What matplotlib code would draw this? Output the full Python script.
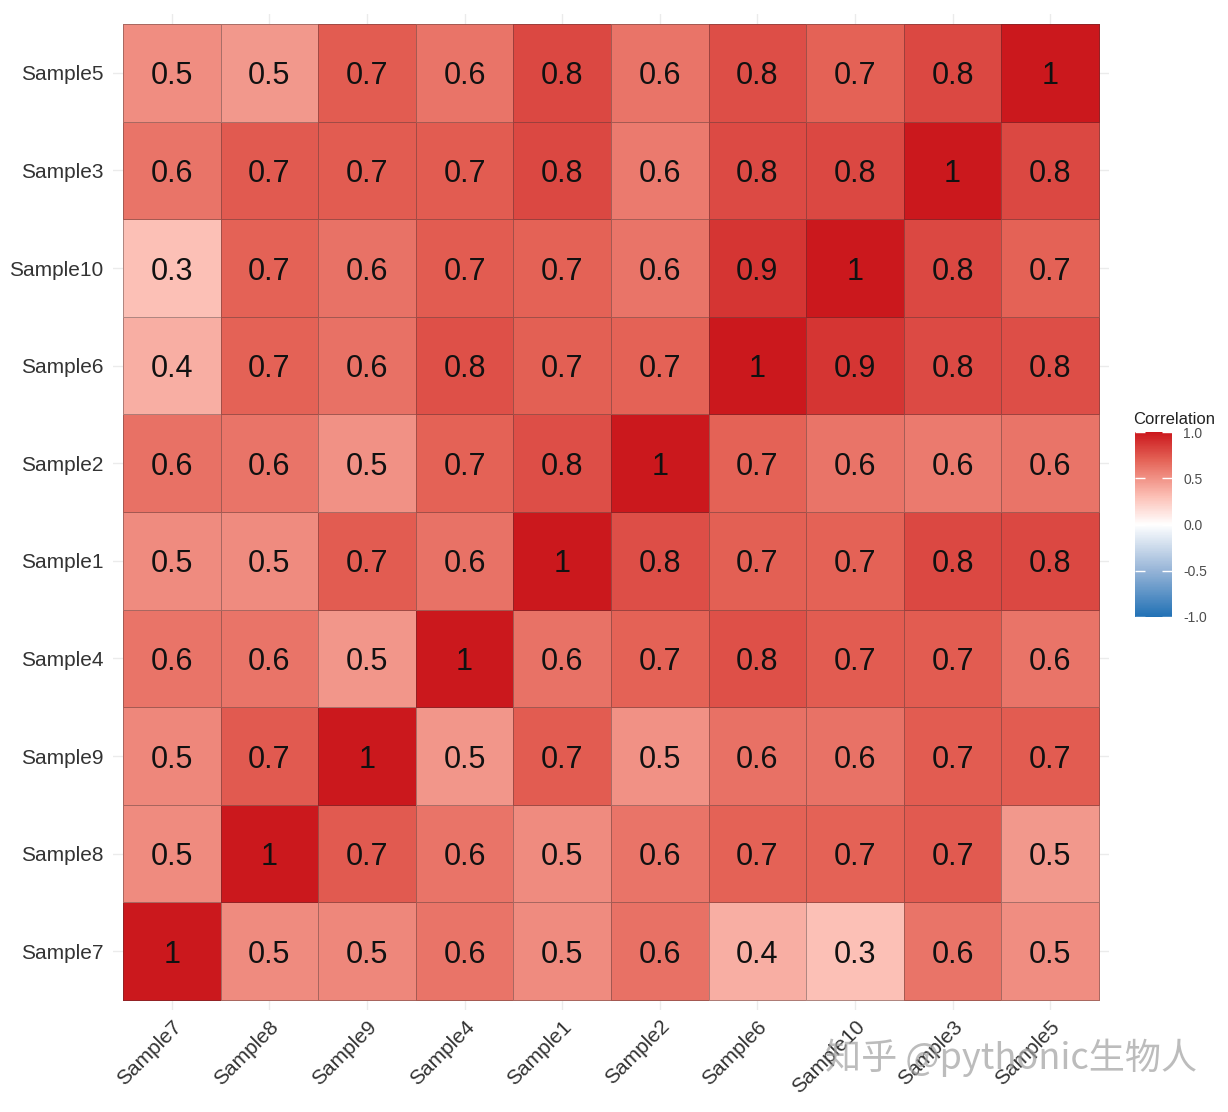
import numpy as np
import matplotlib
matplotlib.use("Agg")
import matplotlib.pyplot as plt
from matplotlib.colors import LinearSegmentedColormap, Normalize

# sample order as shown on both axes (x left->right, y bottom->top)
samples = ["Sample7", "Sample8", "Sample9", "Sample4", "Sample1",
           "Sample2", "Sample6", "Sample10", "Sample3", "Sample5"]

# correlation matrix (row/col in the order above)
corr = np.array([
    [1.00, 0.53, 0.54, 0.62, 0.53, 0.64, 0.38, 0.30, 0.62, 0.52],
    [0.53, 1.00, 0.73, 0.62, 0.53, 0.62, 0.70, 0.70, 0.73, 0.47],
    [0.54, 0.73, 1.00, 0.48, 0.72, 0.50, 0.64, 0.63, 0.72, 0.72],
    [0.62, 0.62, 0.48, 1.00, 0.63, 0.70, 0.77, 0.72, 0.72, 0.62],
    [0.53, 0.53, 0.72, 0.63, 1.00, 0.78, 0.71, 0.70, 0.80, 0.80],
    [0.64, 0.62, 0.50, 0.70, 0.78, 1.00, 0.70, 0.62, 0.60, 0.62],
    [0.38, 0.70, 0.64, 0.77, 0.71, 0.70, 1.00, 0.88, 0.79, 0.78],
    [0.30, 0.70, 0.63, 0.72, 0.70, 0.62, 0.88, 1.00, 0.80, 0.70],
    [0.62, 0.73, 0.72, 0.72, 0.80, 0.60, 0.79, 0.80, 1.00, 0.80],
    [0.52, 0.47, 0.72, 0.62, 0.80, 0.62, 0.78, 0.70, 0.80, 1.00],
])

legend_ticks = [-1.0, -0.5, 0.0, 0.5, 1.0]

plt.rcParams["font.family"] = ["Liberation Sans", "DejaVu Sans"]

# blue - white - red diverging scale (ggplot gradient2 look)
cmap = LinearSegmentedColormap.from_list("corr", [
    (0.00, (33/255, 113/255, 181/255)),
    (0.25, (150/255, 180/255, 215/255)),
    (0.50, (1, 1, 1)),
    (0.65, (252/255, 192/255, 182/255)),
    (0.75, (241/255, 146/255, 134/255)),
    (0.85, (228/255, 98/255, 86/255)),
    (1.00, (203/255, 24/255, 29/255)),
])
norm = Normalize(-1, 1)

fig = plt.figure(figsize=(12.28, 11.12), dpi=100)
ax = fig.add_axes([0.0922, 0.0919, 0.8107, 0.8953])

n = len(samples)
edges = np.arange(n + 1) - 0.5
ax.pcolormesh(edges, edges, corr, cmap=cmap, norm=norm,
              edgecolors=(0.25, 0.2, 0.2, 0.4), linewidth=0.7, zorder=2)

for i in range(n):
    for j in range(n):
        ax.text(j, i, f"{round(corr[i, j], 1):g}", ha="center",
                va="center_baseline", fontsize=22, color="#111111", zorder=3)

ax.set_xlim(-0.6, n - 0.4)
ax.set_ylim(-0.6, n - 0.4)
ax.set_xticks(range(n))
ax.set_yticks(range(n))
ax.set_xticklabels(samples, rotation=45, ha="right", va="top",
                   rotation_mode="anchor", fontsize=15, color="#333333")
ax.set_yticklabels(samples, fontsize=15, color="#333333")
ax.tick_params(axis="both", length=0)
ax.tick_params(axis="x", pad=5)
ax.tick_params(axis="y", pad=7)
ax.grid(True, color="#EBEBEB", linewidth=1.0, zorder=0)
ax.set_axisbelow(True)
for s in ax.spines.values():
    s.set_visible(False)

# legend colourbar
cax = fig.add_axes([1135/1228, (1112-617)/1112, 37/1228, 185/1112])
cb = fig.colorbar(plt.cm.ScalarMappable(norm=norm, cmap=cmap), cax=cax,
                  ticks=legend_ticks)
cb.outline.set_visible(False)
cax.set_yticklabels([f"{t:.1f}" for t in legend_ticks])
cax.yaxis.set_ticks_position("both")
cax.tick_params(direction="in", length=7, width=1, color="white",
                labelcolor="#4d4d4d", labelsize=10, pad=8,
                labelleft=False, labelright=True)
cax.set_title("Correlation", fontsize=12, color="#222222", loc="left",
              pad=6, x=-0.05)

# watermark
fig.text(0.823, 0.049, "知乎 @pythonic生物人", fontsize=26, color="#a0a0a0",
         alpha=0.7, ha="center", va="center",
         family=["Noto Sans CJK SC", "DejaVu Sans"])

fig.savefig("out.png", dpi=100)
